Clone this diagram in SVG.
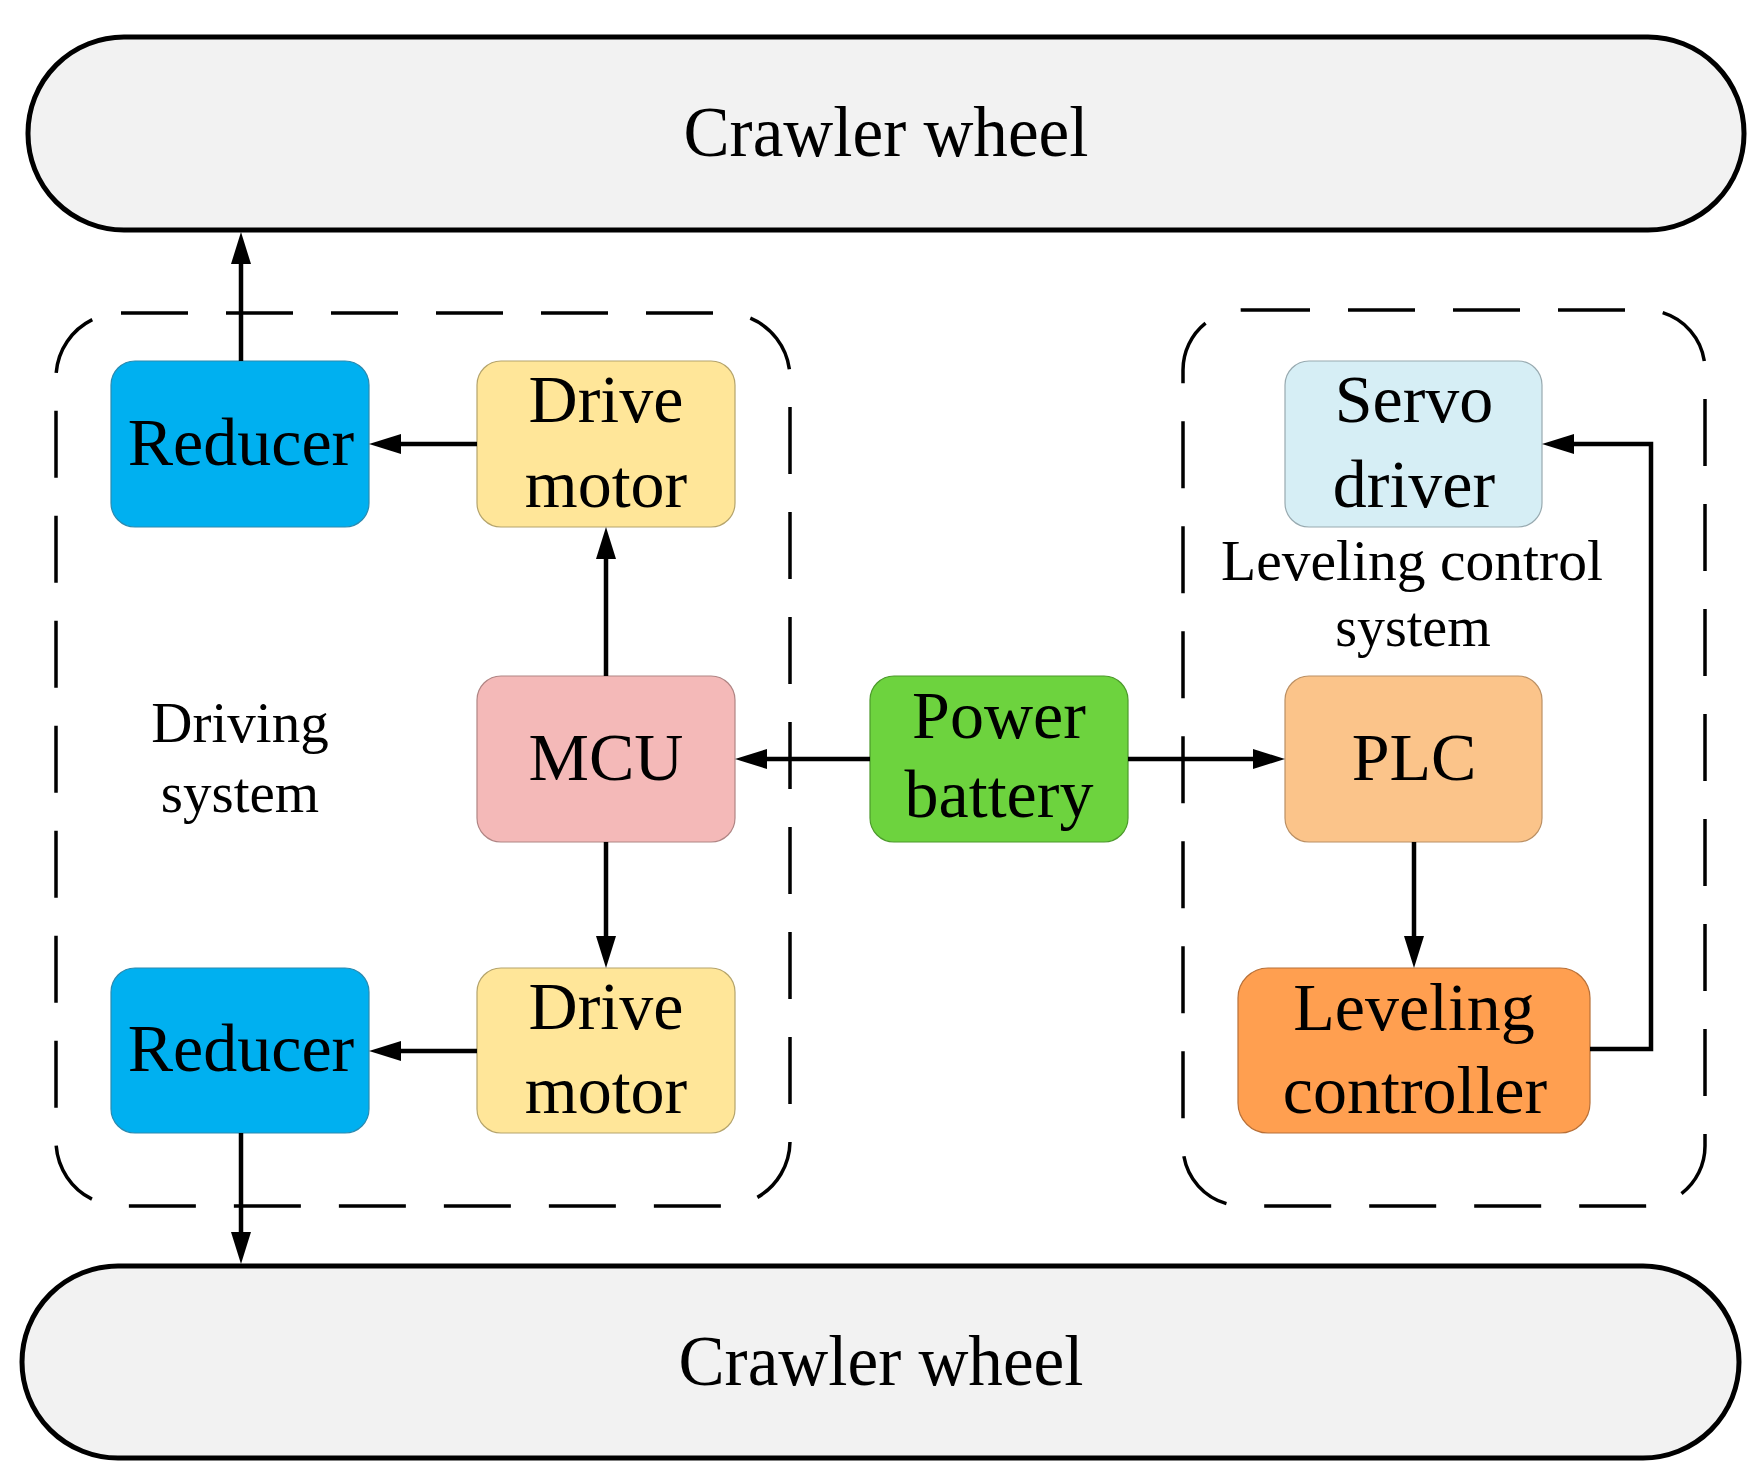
<svg xmlns="http://www.w3.org/2000/svg" width="1764" height="1479" viewBox="0 0 1764 1479">
<style>
  .t { font-family: "Liberation Serif", "Times New Roman", serif; fill: #000; text-anchor: middle; }
  .big { font-size: 68px; }
  .wheel { font-size: 72px; }
  .lbl { font-size: 56px; }
  .wheelshape { fill: #f2f2f2; stroke: #000; stroke-width: 5; }
  .group { fill: none; stroke: #000; stroke-width: 3.5; stroke-dasharray: 67 38; }
  .box { stroke-width: 1.2; }
  .conn { fill: none; stroke: #000; stroke-width: 4.5; }
</style>
<defs>
  <marker id="arr" markerUnits="userSpaceOnUse" markerWidth="32" markerHeight="20" refX="22" refY="10" orient="auto">
    <path d="M0,0 L32,10 L0,20 Z" fill="#000"/>
  </marker>
</defs>
<rect width="1764" height="1479" fill="#fff"/>

<g id="crawler-top">
  <rect class="wheelshape" x="28" y="37" width="1716" height="193" rx="96" ry="96"/>
  <text class="t wheel" x="886" y="156" textLength="405" lengthAdjust="spacingAndGlyphs">Crawler wheel</text>
</g>
<g id="crawler-bottom">
  <rect class="wheelshape" x="22" y="1266" width="1717" height="192" rx="96" ry="96"/>
  <text class="t wheel" x="881" y="1385" textLength="405" lengthAdjust="spacingAndGlyphs">Crawler wheel</text>
</g>

<g id="driving-system">
  <rect class="group" x="56" y="313" width="734" height="893" rx="65" ry="65"/>
  <text class="t lbl" x="240" y="742" style="font-size:57px">Driving</text>
  <text class="t lbl" x="240" y="812" style="font-size:57px">system</text>
</g>
<g id="leveling-system">
  <rect class="group" x="1183" y="310" width="522" height="896" rx="60" ry="60"/>
  <text class="t lbl" x="1412" y="580" textLength="382" lengthAdjust="spacingAndGlyphs">Leveling control</text>
  <text class="t lbl" x="1413" y="646">system</text>
</g>

<g id="reducer-top">
  <rect class="box" x="111" y="361" width="258" height="166" rx="24" fill="#00b0f0" stroke="#2a8ab0"/>
  <text class="t big" x="241" y="465">Reducer</text>
</g>
<g id="drive-motor-top">
  <rect class="box" x="477" y="361" width="258" height="166" rx="24" fill="#ffe699" stroke="#b5a46c"/>
  <text class="t big" x="606" y="422">Drive</text>
  <text class="t big" x="606" y="507">motor</text>
</g>
<g id="mcu">
  <rect class="box" x="477" y="676" width="258" height="166" rx="24" fill="#f4b9b8" stroke="#b08584"/>
  <text class="t big" x="606" y="780">MCU</text>
</g>
<g id="drive-motor-bottom">
  <rect class="box" x="477" y="968" width="258" height="165" rx="24" fill="#ffe699" stroke="#b5a46c"/>
  <text class="t big" x="606" y="1029">Drive</text>
  <text class="t big" x="606" y="1113">motor</text>
</g>
<g id="reducer-bottom">
  <rect class="box" x="111" y="968" width="258" height="165" rx="24" fill="#00b0f0" stroke="#2a8ab0"/>
  <text class="t big" x="241" y="1071">Reducer</text>
</g>
<g id="power-battery">
  <rect class="box" x="870" y="676" width="258" height="166" rx="24" fill="#6dd33e" stroke="#4c9a2b"/>
  <text class="t big" x="999" y="738">Power</text>
  <text class="t big" x="999" y="817">battery</text>
</g>
<g id="servo-driver">
  <rect class="box" x="1285" y="361" width="257" height="166" rx="24" fill="#d6eef5" stroke="#98aab0"/>
  <text class="t big" x="1414" y="422">Servo</text>
  <text class="t big" x="1414" y="507">driver</text>
</g>
<g id="plc">
  <rect class="box" x="1285" y="676" width="257" height="166" rx="24" fill="#fbc48a" stroke="#bb9064"/>
  <text class="t big" x="1414" y="780">PLC</text>
</g>
<g id="leveling-controller">
  <rect class="box" x="1238" y="968" width="352" height="165" rx="30" fill="#ff9f50" stroke="#b87038"/>
  <text class="t big" x="1414" y="1030">Leveling</text>
  <text class="t big" x="1415" y="1113">controller</text>
</g>

<g id="connectors">
  <path class="conn" d="M241,361 V242" marker-end="url(#arr)"/>
  <path class="conn" d="M241,1133 V1254" marker-end="url(#arr)"/>
  <path class="conn" d="M477,444 H379" marker-end="url(#arr)"/>
  <path class="conn" d="M477,1051 H379" marker-end="url(#arr)"/>
  <path class="conn" d="M606,676 V537" marker-end="url(#arr)"/>
  <path class="conn" d="M606,842 V958" marker-end="url(#arr)"/>
  <path class="conn" d="M870,759 H745" marker-end="url(#arr)"/>
  <path class="conn" d="M1128,759 H1275" marker-end="url(#arr)"/>
  <path class="conn" d="M1414,842 V958" marker-end="url(#arr)"/>
  <path class="conn" d="M1590,1049 H1651 V444 H1552" marker-end="url(#arr)"/>
</g>
</svg>
